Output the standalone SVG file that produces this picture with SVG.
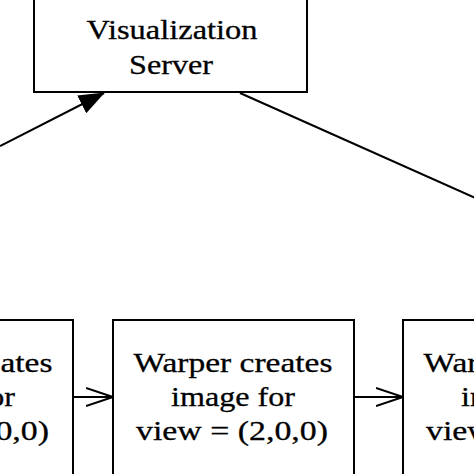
<svg xmlns="http://www.w3.org/2000/svg" width="474" height="474" viewBox="0 0 474 474">
<style>
.box{fill:#fff;stroke:#000;stroke-width:2}
.t{font-family:"Liberation Serif","Times New Roman",serif;font-size:28px;fill:#000;text-anchor:middle;stroke:#000;stroke-width:0.3}
.c{stroke:#000;stroke-width:2;fill:none}
</style>
<defs>
<marker id="solid" markerWidth="26" markerHeight="20" refX="25" refY="10" orient="auto" markerUnits="userSpaceOnUse" viewBox="0 0 26 20">
<path d="M0,0 L26,10 L0,20 Z" fill="#000"/>
</marker>
<marker id="open" markerWidth="28" markerHeight="22" refX="27" refY="11" orient="auto" markerUnits="userSpaceOnUse" viewBox="0 0 28 22">
<path d="M0,2 L27,11 L0,20" fill="none" stroke="#000" stroke-width="2"/>
</marker>
</defs>
<rect width="474" height="474" fill="#fff"/>
<g id="connectors">
<line class="c" x1="0" y1="146" x2="104" y2="93" marker-end="url(#solid)"/>
<line class="c" x1="240" y1="93" x2="480" y2="200"/>
<line class="c" x1="73" y1="397" x2="113" y2="397" marker-end="url(#open)"/>
<line class="c" x1="354" y1="397" x2="403" y2="397" marker-end="url(#open)"/>
</g>
<g id="server">
<rect class="box" x="34" y="-2" width="273" height="94"/>
<text class="t" x="172" y="39" textLength="171" lengthAdjust="spacingAndGlyphs">Visualization</text>
<text class="t" x="171" y="74" textLength="84" lengthAdjust="spacingAndGlyphs">Server</text>
</g>
<g id="warper1">
<rect class="box" x="-168" y="320" width="241" height="160"/>
<text class="t" x="-47" y="372" textLength="199" lengthAdjust="spacingAndGlyphs">Warper creates</text>
<text class="t" x="-47" y="406" textLength="124" lengthAdjust="spacingAndGlyphs">image for</text>
<text class="t" x="-47" y="440" textLength="192" lengthAdjust="spacingAndGlyphs">view = (1,0,0)</text>
</g>
<g id="warper2">
<rect class="box" x="113" y="320" width="241" height="160"/>
<text class="t" x="233" y="372" textLength="199" lengthAdjust="spacingAndGlyphs">Warper creates</text>
<text class="t" x="233" y="406" textLength="124" lengthAdjust="spacingAndGlyphs">image for</text>
<text class="t" x="232" y="440" textLength="192" lengthAdjust="spacingAndGlyphs">view = (2,0,0)</text>
</g>
<g id="warper3">
<rect class="box" x="403" y="320" width="241" height="160"/>
<text class="t" x="523" y="372" textLength="199" lengthAdjust="spacingAndGlyphs">Warper creates</text>
<text class="t" x="523" y="406" textLength="124" lengthAdjust="spacingAndGlyphs">image for</text>
<text class="t" x="522" y="440" textLength="192" lengthAdjust="spacingAndGlyphs">view = (3,0,0)</text>
</g>
</svg>
